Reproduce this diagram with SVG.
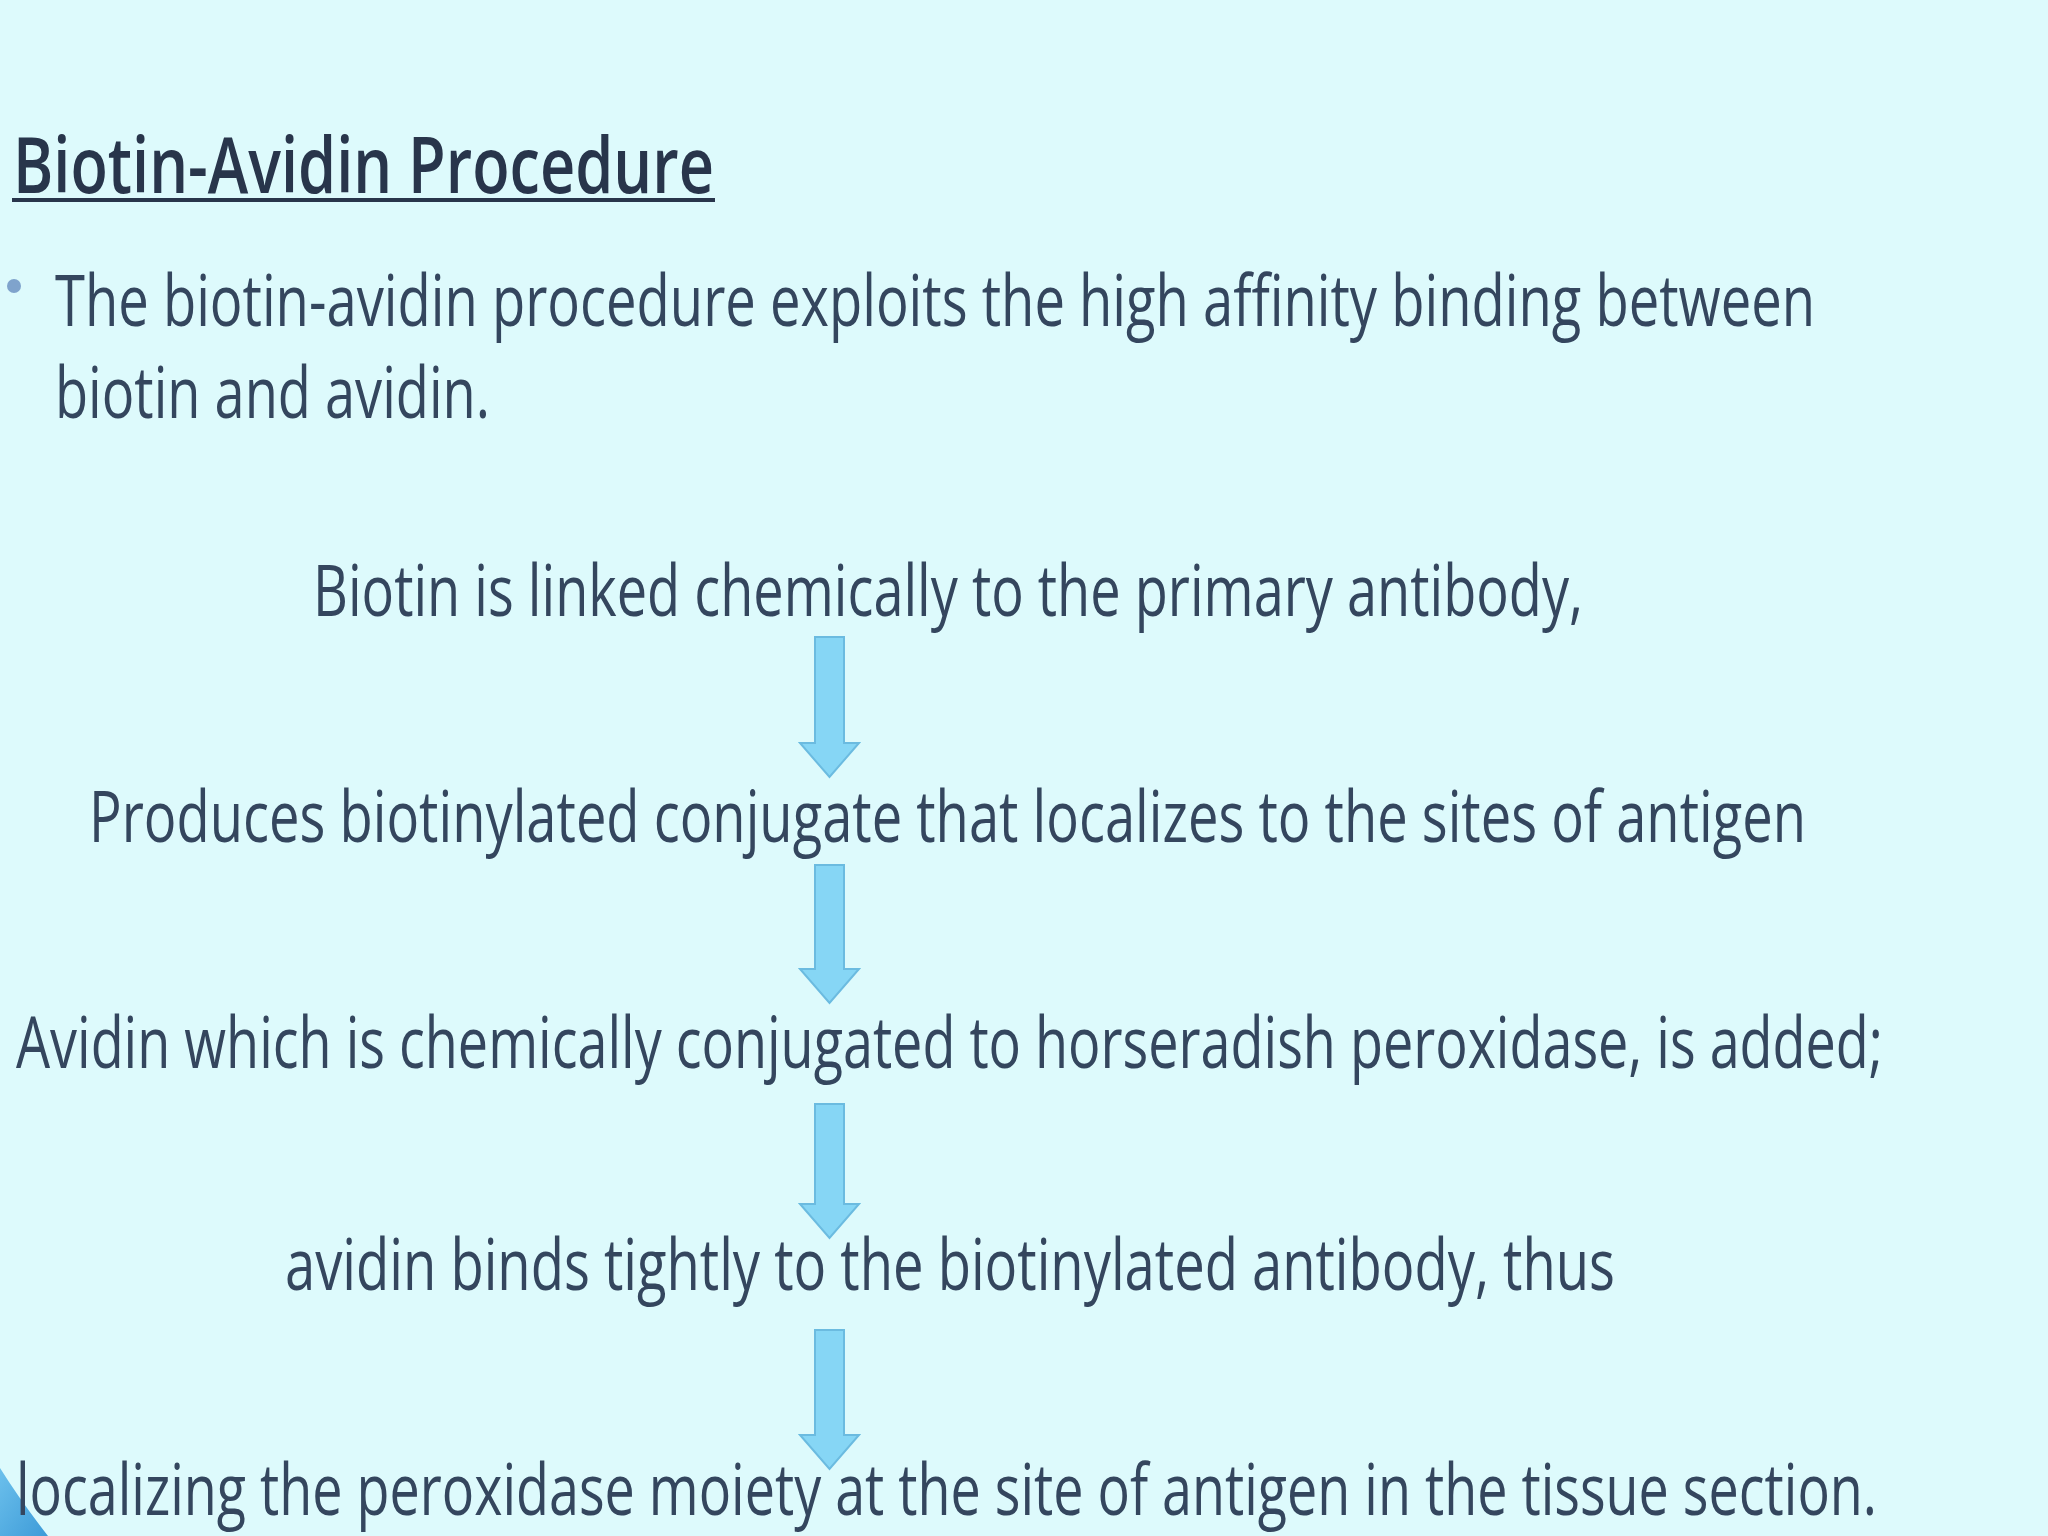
<svg xmlns="http://www.w3.org/2000/svg" width="2048" height="1536" viewBox="0 0 2048 1536">
<defs>
<style>
.t{font-family:"Open Sans","Liberation Sans",sans-serif;font-size:72px;fill:#34465e;}
.title{font-family:"Open Sans","Liberation Sans",sans-serif;font-size:78px;font-weight:600;fill:#28354b;}
.arr{fill:#86d6f5;stroke:#6bbbe0;stroke-width:2;}
</style>
<linearGradient id="corner" x1="0" y1="0" x2="1" y2="1">
<stop offset="0" stop-color="#6cc0ec"/>
<stop offset="1" stop-color="#3d9bd8"/>
</linearGradient>
</defs>
<rect width="2048" height="1536" fill="#ddfafc"/>
<path d="M0,1468 Q20,1500 48,1536 L0,1536 Z" fill="url(#corner)"/>
<g id="title">
<text class="title" x="13" y="193" textLength="701" lengthAdjust="spacingAndGlyphs">Biotin-Avidin Procedure</text>
<rect x="12" y="198" width="703" height="4" fill="#28354b"/>
</g>
<g id="bullet">
<circle cx="14" cy="286" r="7" fill="#7fa3cc"/>
<text class="t" x="55" y="326" textLength="1760" lengthAdjust="spacingAndGlyphs">The biotin-avidin procedure exploits the high affinity binding between</text>
<text class="t" x="55" y="418" textLength="435" lengthAdjust="spacingAndGlyphs">biotin and avidin.</text>
</g>
<g id="step1">
<text class="t" x="313" y="616" textLength="1270" lengthAdjust="spacingAndGlyphs">Biotin is linked chemically to the primary antibody,</text>
</g>
<g id="step2">
<text class="t" x="89" y="842" textLength="1717" lengthAdjust="spacingAndGlyphs">Produces biotinylated conjugate that localizes to the sites of antigen</text>
</g>
<g id="step3">
<text class="t" x="16" y="1068" textLength="1867" lengthAdjust="spacingAndGlyphs">Avidin which is chemically conjugated to horseradish peroxidase, is added;</text>
</g>
<g id="step4">
<text class="t" x="285" y="1290" textLength="1330" lengthAdjust="spacingAndGlyphs">avidin binds tightly to the biotinylated antibody, thus</text>
</g>
<g id="step5">
<text class="t" x="16" y="1515" textLength="1861" lengthAdjust="spacingAndGlyphs">localizing the peroxidase moiety at the site of antigen in the tissue section.</text>
</g>
<g id="connectors">
<path class="arr" d="M815,637 H844 V743 H859 L829.5,777 L800,743 H815 Z"/>
<path class="arr" d="M815,865 H844 V969 H859 L829.5,1003 L800,969 H815 Z"/>
<path class="arr" d="M815,1104 H844 V1204 H859 L829.5,1238 L800,1204 H815 Z"/>
<path class="arr" d="M815,1330 H844 V1435 H859 L829.5,1469 L800,1435 H815 Z"/>
</g>
</svg>
